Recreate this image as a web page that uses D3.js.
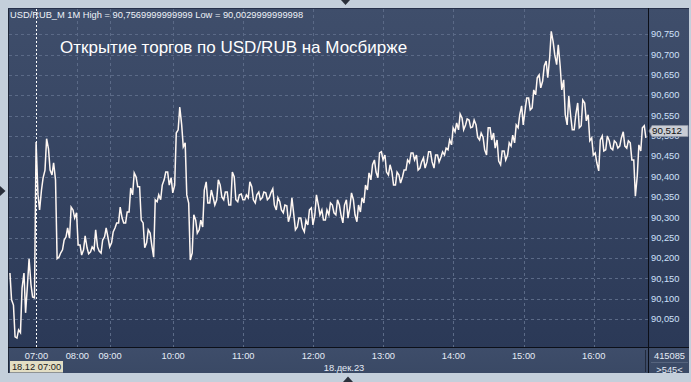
<!DOCTYPE html>
<html>
<head>
<meta charset="utf-8">
<script src="https://cdn.jsdelivr.net/npm/d3@7"></script>
<style>
  html, body { margin: 0; padding: 0; background: #c4cfdb; }
  svg { display: block; font-family: "Liberation Sans", Arial, sans-serif; }
</style>
</head>
<body>
<svg id="chart" width="691" height="382"></svg>
<script>
// ---- data -------------------------------------------------------------
const symbolText = "USD/RUB_M 1M";
const highText = "90,7569999999999";
const lowText = "90,0029999999998";
const titleText = "Открытие торгов по USD/RUB на Мосбирже";

// 1-minute bars, aggregated three at a time: high and low of each group
const groupHigh = [
  90.163, 90.084, 90.023, 90.126, 90.163, 90.198, 90.134, 90.485, 90.355, 90.397,
  90.493, 90.468, 90.434, 90.392, 90.212, 90.244, 90.274, 90.325, 90.318, 90.311,
  90.232, 90.254, 90.225, 90.227, 90.269, 90.227, 90.244, 90.274, 90.249, 90.264,
  90.286, 90.325, 90.298, 90.313, 90.372, 90.409, 90.399, 90.375, 90.286, 90.269,
  90.261, 90.343, 90.355, 90.379, 90.411, 90.411, 90.397, 90.507, 90.571, 90.527,
  90.483, 90.335, 90.306, 90.293, 90.293, 90.367, 90.387, 90.367, 90.348, 90.392,
  90.379, 90.362, 90.362, 90.411, 90.399, 90.355, 90.357, 90.355, 90.387, 90.375,
  90.355, 90.362, 90.362, 90.360, 90.360, 90.370, 90.348, 90.338, 90.330, 90.328,
  90.348, 90.306, 90.298, 90.298, 90.293, 90.318, 90.323, 90.355, 90.330, 90.318,
  90.318, 90.335, 90.330, 90.343, 90.330, 90.330, 90.343, 90.360, 90.343, 90.330,
  90.348, 90.379, 90.409, 90.429, 90.441, 90.458, 90.461, 90.453, 90.429, 90.411,
  90.411, 90.404, 90.416, 90.441, 90.458, 90.458, 90.453, 90.436, 90.446, 90.461,
  90.461, 90.453, 90.453, 90.461, 90.470, 90.490, 90.520, 90.532, 90.554, 90.544,
  90.542, 90.539, 90.539, 90.527, 90.507, 90.497, 90.520, 90.520, 90.507, 90.490,
  90.463, 90.463, 90.483, 90.502, 90.527, 90.552, 90.574, 90.593, 90.593, 90.613,
  90.643, 90.650, 90.672, 90.684, 90.757, 90.731, 90.724, 90.672, 90.638, 90.598,
  90.549, 90.552, 90.581, 90.588, 90.581, 90.552, 90.495, 90.458, 90.490, 90.500,
  90.500, 90.488, 90.488, 90.483, 90.495, 90.510, 90.488, 90.483, 90.441, 90.478,
  90.520, 90.525
];
const groupLow = [
  90.097, 90.006, 90.003, 90.016, 90.065, 90.134, 90.104, 90.102, 90.318, 90.367,
  90.416, 90.416, 90.404, 90.198, 90.202, 90.220, 90.252, 90.249, 90.298, 90.232,
  90.207, 90.220, 90.210, 90.215, 90.220, 90.217, 90.212, 90.252, 90.227, 90.237,
  90.274, 90.286, 90.286, 90.286, 90.313, 90.355, 90.375, 90.293, 90.225, 90.237,
  90.232, 90.202, 90.338, 90.343, 90.392, 90.379, 90.360, 90.379, 90.515, 90.473,
  90.355, 90.195, 90.212, 90.261, 90.269, 90.276, 90.335, 90.335, 90.330, 90.343,
  90.350, 90.343, 90.330, 90.330, 90.343, 90.338, 90.343, 90.343, 90.348, 90.343,
  90.335, 90.343, 90.348, 90.343, 90.348, 90.330, 90.318, 90.318, 90.311, 90.289,
  90.306, 90.269, 90.276, 90.274, 90.264, 90.281, 90.281, 90.306, 90.306, 90.293,
  90.293, 90.306, 90.311, 90.306, 90.306, 90.286, 90.298, 90.325, 90.306, 90.289,
  90.313, 90.335, 90.367, 90.392, 90.411, 90.397, 90.441, 90.411, 90.404, 90.379,
  90.379, 90.384, 90.399, 90.416, 90.434, 90.441, 90.416, 90.421, 90.421, 90.436,
  90.436, 90.421, 90.436, 90.448, 90.453, 90.466, 90.478, 90.510, 90.515, 90.515,
  90.527, 90.520, 90.522, 90.497, 90.490, 90.466, 90.453, 90.490, 90.470, 90.438,
  90.429, 90.441, 90.453, 90.475, 90.483, 90.520, 90.527, 90.564, 90.564, 90.569,
  90.601, 90.618, 90.635, 90.643, 90.692, 90.699, 90.675, 90.613, 90.552, 90.527,
  90.515, 90.515, 90.520, 90.525, 90.537, 90.488, 90.453, 90.434, 90.414, 90.463,
  90.466, 90.470, 90.466, 90.470, 90.475, 90.475, 90.470, 90.441, 90.352, 90.402,
  90.463, 90.495
];
const barsPerGroup = 3;
const lastPrice = 90.512;

const priceTicks = [90.05, 90.10, 90.15, 90.20, 90.25, 90.30, 90.35,
                    90.40, 90.45, 90.50, 90.55, 90.60, 90.65, 90.70, 90.75];
const timeTickBars = [23, 58, 86, 140, 200, 260, 320, 380, 440, 500];
const timeTickLabels = ["07:00", "08:00", "09:00", "10:00", "11:00",
                        "12:00", "13:00", "14:00", "15:00", "16:00"];
const cursorBar = 23;
const cursorLabel = "18.12 07:00";
const dateLabel = "18.дек.23";
const volumeLabel = "415085";
const countLabel = ">545<";

// ---- layout -------------------------------------------------------------
const W = 691, H = 382;
const plot = { left: 9, top: 9, right: 648, bottom: 347 };
const panel = { left: 8, top: 8, right: 689, bottom: 373 };

const svg = d3.select("#chart");
const defs = svg.append("defs");

const gPlot = defs.append("linearGradient").attr("id", "plotBg")
  .attr("x1", 0).attr("y1", 0).attr("x2", 0).attr("y2", 1);
gPlot.append("stop").attr("offset", "0%").attr("stop-color", "#3f4e6b");
gPlot.append("stop").attr("offset", "100%").attr("stop-color", "#2b3957");

const gAxis = defs.append("linearGradient").attr("id", "axisBg")
  .attr("x1", 0).attr("y1", 0).attr("x2", 0).attr("y2", 1);
gAxis.append("stop").attr("offset", "0%").attr("stop-color", "#3e4d6a");
gAxis.append("stop").attr("offset", "100%").attr("stop-color", "#3a4965");

// outer frame
svg.append("rect").attr("width", W).attr("height", H).attr("fill", "#c4cfdb");

// panel backgrounds
svg.append("rect")
  .attr("x", panel.left).attr("y", panel.top)
  .attr("width", panel.right - panel.left).attr("height", plot.bottom - panel.top)
  .attr("fill", "url(#plotBg)");
svg.append("rect")
  .attr("x", panel.left).attr("y", plot.bottom)
  .attr("width", panel.right - panel.left).attr("height", panel.bottom - plot.bottom)
  .attr("fill", "url(#axisBg)");

// scales
const nBars = groupHigh.length * barsPerGroup;
const x = d3.scaleLinear().domain([0, 547]).range([plot.left, plot.right]);
const y = d3.scaleLinear().domain([89.981, 90.812]).range([plot.bottom, plot.top]);

const fmtPrice = v => d3.format(".3f")(v).replace(".", ",");

// horizontal grid
svg.append("g").selectAll("line").data(priceTicks).join("line")
  .attr("x1", plot.left).attr("x2", plot.right)
  .attr("y1", d => Math.round(y(d)) + 0.5).attr("y2", d => Math.round(y(d)) + 0.5)
  .attr("stroke", "#5b6a87").attr("stroke-width", 1)
  .attr("stroke-dasharray", "3,3");

// vertical grid at the hour marks (the cursor line covers 07:00)
svg.append("g").selectAll("line")
  .data(timeTickBars.filter(b => b !== cursorBar)).join("line")
  .attr("x1", d => Math.round(x(d + 0.5)) + 0.5).attr("x2", d => Math.round(x(d + 0.5)) + 0.5)
  .attr("y1", plot.top).attr("y2", plot.bottom)
  .attr("stroke", "#5b6a87").attr("stroke-width", 1)
  .attr("stroke-dasharray", "3,3");

// price path: each group drawn as a short vertical stroke from high to low
const pts = [];
let prev = null;
groupHigh.forEach((h, k) => {
  const l = groupLow[k];
  const cx = x(k * barsPerGroup + barsPerGroup / 2);
  let a = h, b = l;
  if (prev !== null && Math.abs(prev - l) < Math.abs(prev - h)) { a = l; b = h; }
  pts.push([cx - 0.8, y(a)], [cx + 0.8, y(b)]);
  prev = b;
});
svg.append("path")
  .attr("d", d3.line()(pts))
  .attr("fill", "none")
  .attr("stroke", "#fff7f2")
  .attr("stroke-width", 1.5)
  .attr("stroke-linejoin", "miter");

// cursor line
const cx0 = Math.round(x(cursorBar + 0.5)) + 0.5;
svg.append("line")
  .attr("x1", cx0).attr("x2", cx0).attr("y1", plot.top).attr("y2", plot.bottom)
  .attr("stroke", "#ffffff").attr("stroke-width", 1)
  .attr("stroke-dasharray", "2,2");

// frame lines
svg.append("line").attr("x1", plot.left - 0.5).attr("x2", plot.left - 0.5)
  .attr("y1", panel.top).attr("y2", panel.bottom).attr("stroke", "#1e2638");
svg.append("line").attr("x1", panel.left).attr("x2", panel.right)
  .attr("y1", panel.top + 0.5).attr("y2", panel.top + 0.5).attr("stroke", "#26304a");
svg.append("line").attr("x1", panel.left).attr("x2", panel.right)
  .attr("y1", plot.bottom + 0.5).attr("y2", plot.bottom + 0.5).attr("stroke", "#0c0f18");
svg.append("line").attr("x1", plot.right + 0.5).attr("x2", plot.right + 0.5)
  .attr("y1", panel.top).attr("y2", panel.bottom).attr("stroke", "#0c0f18");
svg.append("line").attr("x1", plot.right - 2.5).attr("x2", plot.right - 2.5)
  .attr("y1", plot.bottom + 3).attr("y2", panel.bottom - 1).attr("stroke", "#222a3c");

// right price axis
svg.append("g").selectAll("text").data(priceTicks).join("text")
  .attr("x", plot.right + 3).attr("y", d => y(d))
  .attr("dy", "0.35em")
  .attr("font-size", 9.3)
  .attr("fill", "#cfe0fb")
  .text(fmtPrice);

// last price marker
const ly = y(lastPrice);
svg.append("path")
  .attr("d", `M${plot.right + 1},${ly} L${plot.right + 4},${ly - 5.5} L${panel.right - 1},${ly - 5.5} L${panel.right - 1},${ly + 5.5} L${plot.right + 4},${ly + 5.5} Z`)
  .attr("fill", "#c9cdd5").attr("stroke", "#8e96a6").attr("stroke-width", 0.8);
svg.append("text")
  .attr("x", plot.right + 4).attr("y", ly).attr("dy", "0.35em")
  .attr("font-size", 9.8).attr("fill", "#111")
  .text(fmtPrice(lastPrice));

// time axis labels
svg.append("g").selectAll("text").data(timeTickBars).join("text")
  .attr("x", d => x(d + 0.5)).attr("y", 355.5)
  .attr("dy", "0.35em").attr("text-anchor", "middle")
  .attr("font-size", 9.3).attr("fill", "#e4ebf6")
  .text((d, i) => timeTickLabels[i]);

// cursor date box
svg.append("rect").attr("x", 10).attr("y", 361).attr("width", 53).attr("height", 11.5)
  .attr("fill", "#e3dec4");
svg.append("text").attr("x", 36.5).attr("y", 366.8).attr("dy", "0.35em")
  .attr("text-anchor", "middle").attr("font-size", 9.3).attr("fill", "#1c1c1c")
  .text(cursorLabel);

// date of the session
svg.append("text").attr("x", 344).attr("y", 367.5).attr("dy", "0.35em")
  .attr("text-anchor", "middle").attr("font-size", 9.3).attr("fill", "#e4ebf6")
  .text(dateLabel);

// volume / bar count box
svg.append("text").attr("x", 669.5).attr("y", 355.5).attr("dy", "0.35em")
  .attr("text-anchor", "middle").attr("font-size", 9.3).attr("fill", "#e4ebf6")
  .text(volumeLabel);
svg.append("line").attr("x1", 651).attr("x2", 688).attr("y1", 362.5).attr("y2", 362.5)
  .attr("stroke", "#56647e");
svg.append("text").attr("x", 669.5).attr("y", 369.5).attr("dy", "0.35em")
  .attr("text-anchor", "middle").attr("font-size", 9.3).attr("fill", "#e4ebf6")
  .text(countLabel);

// header line
svg.append("text").attr("x", 10).attr("y", 15).attr("dy", "0.35em")
  .attr("font-size", 9.3).attr("fill", "#eef2f8")
  .text(`${symbolText}  High = ${highText} Low = ${lowText}`);

// title
svg.append("text").attr("x", 60).attr("y", 47.5).attr("dy", "0.35em")
  .attr("font-size", 17).attr("fill", "#ffffff")
  .text(titleText);

// scroll markers on the frame
svg.append("path").attr("d", "M341,0 L350,0 L345.5,5 Z").attr("fill", "#2a2f3a");
svg.append("path").attr("d", "M343,382 L353,382 L348,376.5 Z").attr("fill", "#2a2f3a");
svg.append("path").attr("d", "M0,186 L5.5,191 L0,196 Z").attr("fill", "#2a2f3a");
</script>
</body>
</html>
